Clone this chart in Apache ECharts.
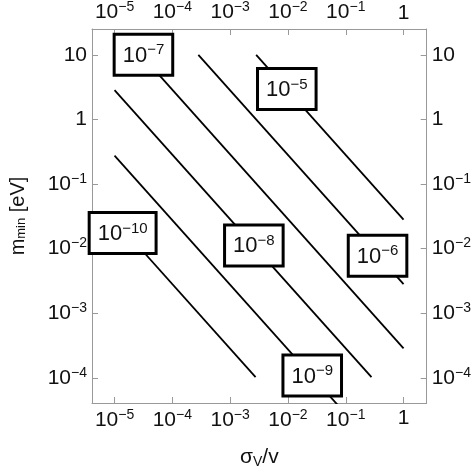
<!DOCTYPE html>
<html><head><meta charset="utf-8">
<script src="https://cdn.jsdelivr.net/npm/echarts@6/dist/echarts.min.js"></script>
<style>html,body{margin:0;padding:0;background:#fff}#c{width:474px;height:474px}</style>
</head><body><div id="c"></div>
<script>
// all values in log10 space
var xTicks = [-5, -4, -3, -2, -1, 0];
var yTicks = [-4, -3, -2, -1, 0, 1];
var lineNames = ['1e-10', '1e-9', '1e-8', '1e-7', '1e-6', '1e-5'];
var lineExp = [-10, -9, -8, -7, -6, -5];
var lineStart = [[-4.9, -1.65], [-5, -0.56], [-5, 0.455], [-4.3, 0.76], [-3.55, 1.0], [-2.55, 1.0]];
var lineEnd = [[-2.56, -3.99], [-1.0, -4.56], [-0.555, -3.99], [0, -3.545], [0, -2.55], [0, -1.55]];
var labelPos = [[-4.86, -1.76], [-1.58, -3.965], [-2.59, -1.95], [-4.5, 1.0], [-0.45, -2.11], [-2.02, 0.47]];

function fmt(v) {
  var n = Math.round(v);
  if (n === 0) return '1';
  if (n === 1) return '10';
  return '10{s|' + (n < 0 ? '\u2212' + (-n) : n) + '}';
}
var rich = {s: {fontSize: 14, verticalAlign: 'top', padding: [0, 0, 10, 0], color: '#111', fontFamily: 'Liberation Sans'}};

function mkAxis(pos, ticks, min, max, extra) {
  var a = {
    type: 'value', position: pos, min: min, max: max,
    axisLine: {show: true, onZero: false, lineStyle: {color: '#999', width: 1}},
    axisTick: {show: true, inside: true, length: 6, customValues: ticks, lineStyle: {color: '#999'}},
    axisLabel: {customValues: ticks, formatter: fmt, fontSize: 21, color: '#111', fontFamily: 'Liberation Sans', rich: rich, margin: 5},
    splitLine: {show: false}
  };
  for (var k in extra) a[k] = extra[k];
  return a;
}

var series = [];
for (var i = 0; i < lineNames.length; i++) {
  series.push({
    type: 'line', name: lineNames[i], data: [lineStart[i], lineEnd[i]],
    symbol: 'none', clip: true, lineStyle: {color: '#000', width: 1.8}, z: 2
  });
}
series.push({
  type: 'scatter', symbolSize: 1, zlevel: 1, z: 5, silent: true,
  itemStyle: {opacity: 0},
  emphasis: {disabled: true},
  data: labelPos.map(function (p, i) {
    return {value: p, label: {formatter: '10{s|\u2212' + (-lineExp[i]) + '}'}};
  }),
  label: {
    show: true, position: 'inside', opacity: 1, fontSize: 22, color: '#111', fontFamily: 'Liberation Sans',
    backgroundColor: '#fff', borderColor: '#000', borderWidth: 3, padding: [7, 7, 5, 7],
    rich: {s: {fontSize: 15, verticalAlign: 'top', padding: [0, 0, 11, 0], color: '#111', fontFamily: 'Liberation Sans'}}
  }
});

var chart = echarts.init(document.getElementById('c'));
chart.setOption({
  animation: false,
  grid: {left: 56, right: 28, top: 27, bottom: 57, containLabel: false},
  xAxis: [
    mkAxis('bottom', xTicks, -5.39, 0.4, {name: '\u03c3{sub|V}/v', nameLocation: 'middle', nameGap: 42,
      nameTextStyle: {fontSize: 21, color: '#111', fontFamily: 'Liberation Sans',
        rich: {sub: {fontSize: 14, verticalAlign: 'bottom', padding: [10, 0, 0, 0], color: '#111'}}}}),
    mkAxis('top', xTicks, -5.39, 0.4, {})
  ],
  yAxis: [
    mkAxis('left', yTicks, -4.39, 1.4, {name: 'm{sub|min} [eV]', nameLocation: 'middle', nameGap: 64,
      nameTextStyle: {fontSize: 20, color: '#111', fontFamily: 'Liberation Sans',
        rich: {sub: {fontSize: 13, verticalAlign: 'bottom', color: '#111'}}}}),
    mkAxis('right', yTicks, -4.39, 1.4, {})
  ],
  series: series
});
</script></body></html>
